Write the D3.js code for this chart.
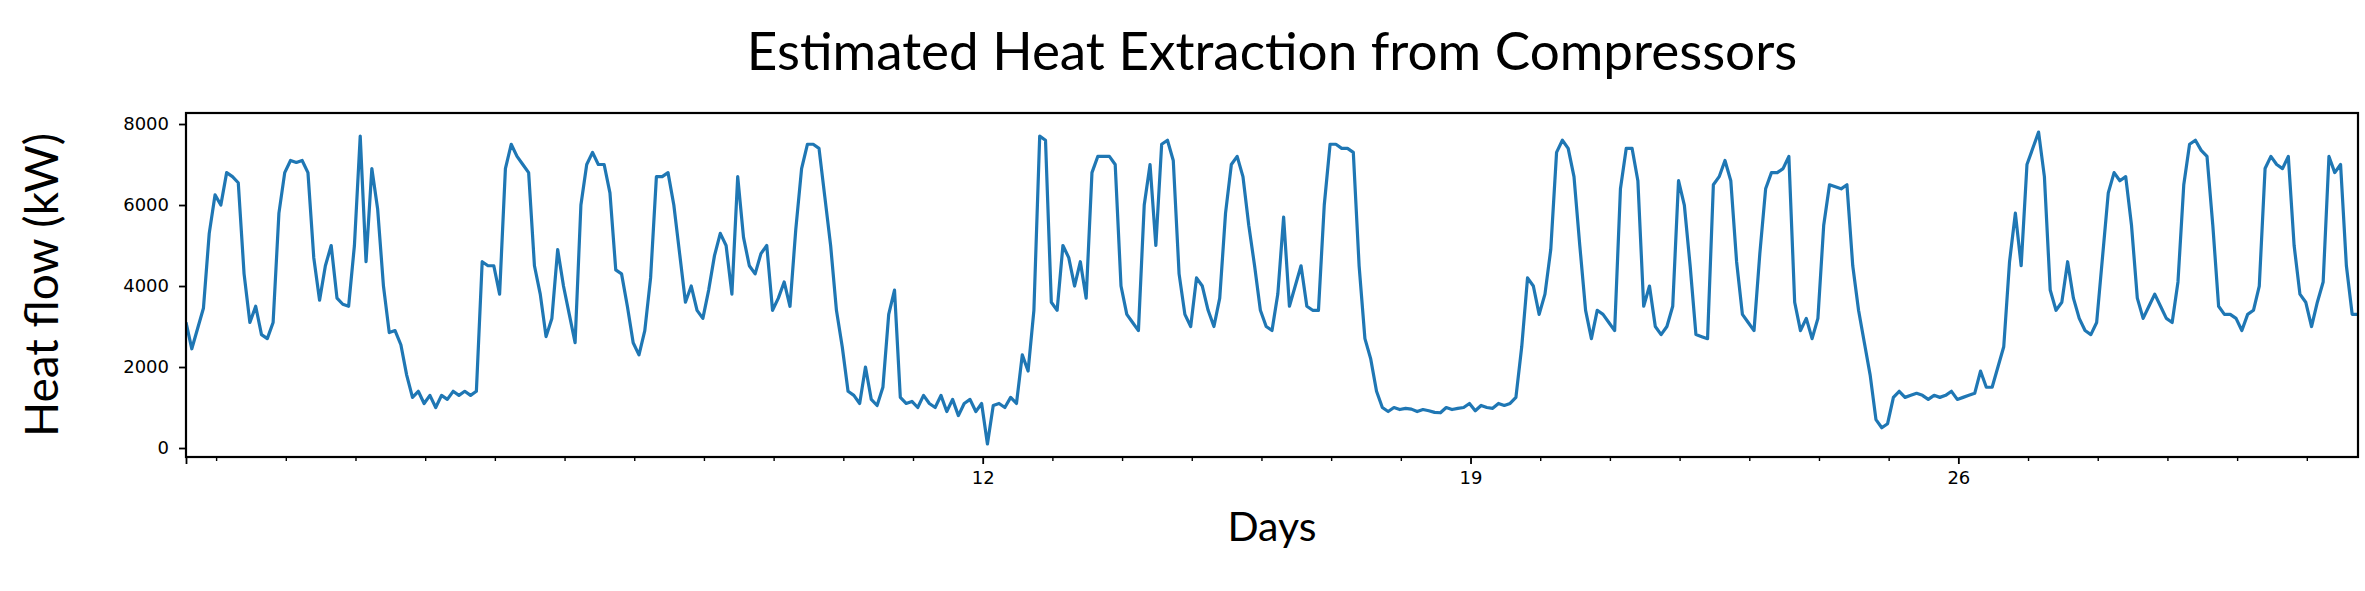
<!DOCTYPE html>
<html><head><meta charset="utf-8">
<script src="https://cdn.jsdelivr.net/npm/d3@7"></script>
<style>body{margin:0;background:#fff}svg{display:block}</style>
</head><body>
<script>
const titleText = "Estimated Heat Extraction from Compressors";
const yLabelText = "Heat flow (kW)";
const xLabelText = "Days";
const startDay = 0.568;
const stepHours = 2;
const heatKW = [
3100,2450,2950,3450,5300,6250,6000,6800,6700,6550,4300,3100,3500,2800,2700,3100,5800,6800,7100,7050,
7100,6800,4700,3650,4500,5000,3700,3550,3500,5000,7700,4600,6900,5900,4000,2850,2900,2550,1800,1250,
1400,1100,1300,1000,1300,1200,1400,1300,1400,1300,1400,4600,4500,4500,3800,6900,7500,7200,7000,6800,
4500,3800,2750,3200,4900,4000,3300,2600,6000,7000,7300,7000,7000,6300,4400,4300,3500,2600,2300,2900,
4200,6700,6700,6800,6000,4800,3600,4000,3400,3200,3900,4750,5300,5000,3800,6700,5200,4500,4300,4800,
5000,3400,3700,4100,3500,5400,6900,7500,7500,7400,6200,5000,3400,2500,1400,1300,1100,2000,1200,1050,
1500,3300,3900,1250,1100,1150,1000,1300,1100,1000,1300,900,1200,800,1100,1200,900,1100,100,1050,
1100,1000,1250,1100,2300,1900,3400,7700,7600,3600,3400,5000,4700,4000,4600,3700,6800,7200,7200,7200,
7000,4000,3300,3100,2900,6000,7000,5000,7500,7600,7100,4300,3300,3000,4200,4000,3400,3000,3700,5800,
7000,7200,6700,5500,4500,3400,3000,2900,3800,5700,3500,4000,4500,3500,3400,3400,6000,7500,7500,7400,
7400,7300,4500,2700,2200,1400,1000,900,1000,950,980,960,900,950,920,880,870,1000,950,980,
1000,1100,920,1050,1000,980,1100,1050,1100,1250,2500,4200,4000,3300,3800,4900,7300,7600,7400,6700,
5000,3400,2700,3400,3300,3100,2900,6400,7400,7400,6600,3500,4000,3000,2800,3000,3500,6600,6000,4500,
2800,2750,2700,6500,6700,7100,6600,4600,3300,3100,2900,4800,6400,6800,6800,6900,7200,3600,2900,3200,
2700,3200,5500,6500,6450,6400,6500,4500,3400,2600,1800,700,500,600,1250,1400,1250,1300,1350,1300,
1200,1300,1250,1300,1400,1200,1250,1300,1350,1900,1500,1500,2000,2500,4600,5800,4500,7000,7400,7800,
6700,3900,3400,3600,4600,3700,3200,2900,2800,3100,4700,6300,6800,6600,6700,5500,3700,3200,3500,3800,
3500,3200,3100,4100,6500,7500,7600,7350,7200,5500,3500,3300,3300,3200,2900,3300,3400,4000,6900,7200,
7000,6900,7200,5000,3800,3600,3000,3600,4100,7200,6800,7000,4500,3300,3300
];
const yTicks = [0, 2000, 4000, 6000, 8000];
const xMajorTicks = [12, 19, 26];
const xMinorTicks = d3.range(1, 32);

const W = 2365, H = 591;
const M = {left: 186, right: 2358, top: 113, bottom: 457};

const data = heatKW.map((v, i) => ({day: startDay + i * stepHours / 24, v}));
const endDay = data[data.length - 1].day;

const svg = d3.select("body").append("svg").attr("width", W).attr("height", H)
  .style("font-family", "DejaVu Sans");

const x = d3.scaleLinear().domain([startDay, endDay]).range([M.left, M.right]);
const y = d3.scaleLinear().domain([-222, 8272]).range([M.bottom, M.top]);

svg.append("clipPath").attr("id", "c").append("rect")
  .attr("x", M.left).attr("y", M.top).attr("width", M.right - M.left).attr("height", M.bottom - M.top);
svg.append("path").datum(data)
  .attr("clip-path", "url(#c)")
  .attr("fill", "none").attr("stroke", "#1f77b4").attr("stroke-width", 3.2)
  .attr("stroke-linejoin", "round")
  .attr("d", d3.line().x(d => x(d.day)).y(d => y(d.v)));

const ya = svg.append("g").attr("transform", `translate(${M.left},0)`)
  .call(d3.axisLeft(y).tickValues(yTicks).tickSize(7).tickPadding(10).tickFormat(d3.format("d")));
ya.select(".domain").remove();
ya.selectAll("line").attr("stroke", "#000").attr("stroke-width", 1.8);
ya.selectAll("text").attr("font-size", 18).attr("fill", "#000").attr("font-family", "DejaVu Sans");

const xm = svg.append("g").attr("transform", `translate(0,${M.bottom})`)
  .call(d3.axisBottom(x).tickValues(xMinorTicks.filter(d => d >= startDay && d <= endDay && !xMajorTicks.includes(d))).tickSize(4).tickFormat(""));
xm.select(".domain").remove();
xm.selectAll("line").attr("stroke", "#000").attr("stroke-width", 1.4);
const xa = svg.append("g").attr("transform", `translate(0,${M.bottom})`)
  .call(d3.axisBottom(x).tickValues([startDay].concat(xMajorTicks)).tickSize(7).tickPadding(7)
    .tickFormat(d => xMajorTicks.includes(d) ? d3.format("d")(d) : ""));
xa.select(".domain").remove();
xa.selectAll("line").attr("stroke", "#000").attr("stroke-width", 1.8);
xa.selectAll("text").attr("font-size", 18).attr("fill", "#000").attr("font-family", "DejaVu Sans");

svg.append("rect").attr("x", M.left).attr("y", M.top).attr("width", M.right - M.left).attr("height", M.bottom - M.top)
  .attr("fill", "none").attr("stroke", "#000").attr("stroke-width", 2.2);

svg.append("text").attr("x", (M.left + M.right) / 2).attr("y", 70).attr("text-anchor", "middle")
  .attr("font-family", "Lato").attr("font-size", 53).attr("fill", "#000").text(titleText);
svg.append("text").attr("x", (M.left + M.right) / 2).attr("y", 541).attr("text-anchor", "middle")
  .attr("font-family", "Lato").attr("font-size", 41).attr("fill", "#000").text(xLabelText);
svg.append("text").attr("transform", `translate(58,${(M.top + M.bottom) / 2}) rotate(-90)`).attr("text-anchor", "middle")
  .attr("font-family", "Lato").attr("font-size", 46).attr("fill", "#000").text(yLabelText);
</script>
</body></html>
